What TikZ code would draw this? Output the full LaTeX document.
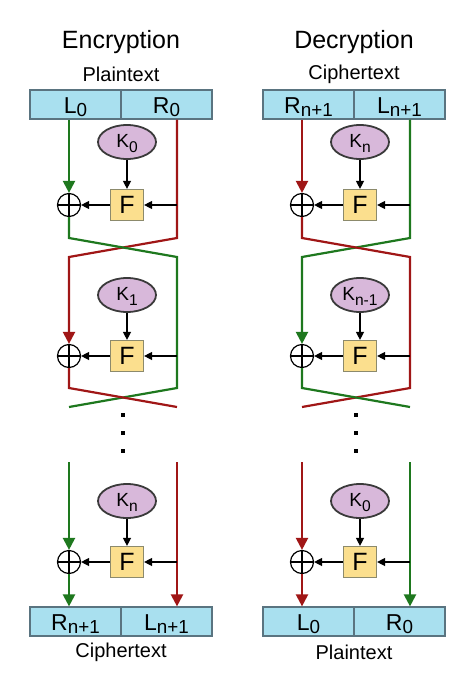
\documentclass[tikz,border=0pt]{standalone}
\usepackage{fontspec}
\setmainfont{Liberation Sans}
\usepackage{xcolor}
\usetikzlibrary{arrows.meta,shapes.geometric}

\definecolor{fgreen}{HTML}{1E781E}
\definecolor{fred}{HTML}{A01616}
\definecolor{boxfill}{HTML}{A9E0EF}
\definecolor{boxline}{HTML}{5A7480}
\definecolor{keyfill}{HTML}{D8B8DA}
\definecolor{keyline}{HTML}{3A3A3A}
\definecolor{ffill}{HTML}{FBDF8E}
\definecolor{fline}{HTML}{8C8A6C}

\newcommand{\lowsub}[1]{\raisebox{-0.28em}{\scalebox{0.82}{#1}}}
\newcommand{\boxsub}[1]{\raisebox{-0.16em}{\scalebox{0.82}{#1}}}

\begin{document}
\begin{tikzpicture}[x=1pt, y=-1pt,
  title/.style={font=\fontsize{25}{30}\selectfont},
  caption/.style={font=\fontsize{20}{24}\selectfont},
  halfbox/.style={draw=boxline, line width=1.2pt, fill=boxfill, minimum width=91pt,
    minimum height=29pt, inner sep=0pt, text height=20pt, text depth=3pt,
    font=\fontsize{23}{23}\selectfont},
  keynode/.style={ellipse, draw=keyline, line width=1.8pt, fill=keyfill,
    minimum width=58pt, minimum height=34pt, inner sep=0pt, text height=13pt, text depth=3pt,
    font=\fontsize{19}{19}\selectfont},
  fnode/.style={draw=fline, line width=1.2pt, fill=ffill, minimum width=33pt,
    minimum height=31pt, inner sep=0pt, font=\fontsize{25}{25}\selectfont},
  xornode/.style={circle, draw, line width=1.2pt, minimum size=23pt, inner sep=0pt,
    path picture={\draw[line width=1.2pt] (path picture bounding box.north) -- (path picture bounding box.south)
      (path picture bounding box.west) -- (path picture bounding box.east);}},
  gline/.style={draw=fgreen, line width=2.2pt},
  rline/.style={draw=fred, line width=2.2pt},
  tip/.style={-{Triangle[length=12pt,width=12pt]}},
  karrow/.style={line width=1.3pt, -{Triangle[length=8pt,width=8pt]}}]

  \useasboundingbox (0,0) rectangle (474,693);

  % rows where the halves cross over
  \coordinate (rowA) at (0,238);
  \coordinate (rowB) at (0,257);
  \coordinate (rowC) at (0,388);
  \coordinate (rowD) at (0,407);
  \coordinate (rowE) at (0,462);

  % Encryption
  \coordinate (encleft) at (69,0);
  \coordinate (encright) at (177,0);
  \node[title] (enctitle) at (121,42) {Encryption};
  \node[caption] (encin) at (121,74) {Plaintext};
  \node[halfbox] (encL0) at (75.5,104.5) {L\boxsub{0}};
  \node[halfbox] (encR0) at (166.5,104.5) {R\boxsub{0}};

  \node[keynode] (encK0) at (127,142) {K\lowsub{0}};
  \node[fnode] (encF0) at (127,205) {F};
  \node[xornode] (encX0) at (69,205) {};

  \node[keynode] (encK1) at (127,295) {K\lowsub{1}};
  \node[fnode] (encF1) at (127,356) {F};
  \node[xornode] (encX1) at (69,356) {};

  \node[keynode] (encKn) at (127,501) {K\lowsub{n}};
  \node[fnode] (encFn) at (127,562) {F};
  \node[xornode] (encXn) at (69,562) {};

  \node[halfbox] (encRn) at (75.5,621.5) {R\boxsub{n+1}};
  \node[halfbox] (encLn) at (166.5,621.5) {L\boxsub{n+1}};
  \node[caption] (encout) at (121,652) {Ciphertext};

  \draw[gline, tip] (encL0.south -| encX0) -- (encX0.north);
  \draw[rline, tip] (encR0.south -| encright) -- (encright |- rowA) -- (encleft |- rowB) -- (encX1.north);
  \draw[gline] (encX0.south) -- (encleft |- rowA) -- (encright |- rowB) -- (encright |- rowC) -- (encleft |- rowD);
  \draw[rline] (encX1.south) -- (encleft |- rowC) -- (encright |- rowD);
  \draw[gline, tip] (encleft |- rowE) -- (encXn.north);
  \draw[gline, tip] (encXn.south) -- (encRn.north -| encXn);
  \draw[rline, tip] (encright |- rowE) -- (encLn.north -| encright);

  \foreach \r in {0,1,n} {
    \draw[karrow] (encK\r.south) -- (encF\r.north);
    \draw[karrow] (encF\r -| encright) -- (encF\r.east);
    \draw[karrow] (encF\r.west) -- (encX\r.east);
  }
  \foreach \y in {413,431,449}
    \fill (121,\y) rectangle ++(4,4);

  % Decryption
  \begin{scope}[xshift=233]
  \coordinate (decleft) at (69,0);
  \coordinate (decright) at (177,0);
  \node[title] (dectitle) at (121,42) {Decryption};
  \node[caption] (decin) at (121,74) {Ciphertext};
  \node[halfbox] (decRn) at (75.5,104.5) {R\boxsub{n+1}};
  \node[halfbox] (decLn) at (166.5,104.5) {L\boxsub{n+1}};

  \node[keynode] (decKn) at (127,142) {K\lowsub{n}};
  \node[fnode] (decFn) at (127,205) {F};
  \node[xornode] (decXn) at (69,205) {};

  \node[keynode] (decKm) at (127,295) {K\lowsub{n-1}};
  \node[fnode] (decFm) at (127,356) {F};
  \node[xornode] (decXm) at (69,356) {};

  \node[keynode] (decK0) at (127,501) {K\lowsub{0}};
  \node[fnode] (decF0) at (127,562) {F};
  \node[xornode] (decX0) at (69,562) {};

  \node[halfbox] (decL0) at (75.5,621.5) {L\boxsub{0}};
  \node[halfbox] (decR0) at (166.5,621.5) {R\boxsub{0}};
  \node[caption] (decout) at (121,652) {Plaintext};

  \draw[rline, tip] (decRn.south -| decXn) -- (decXn.north);
  \draw[gline, tip] (decLn.south -| decright) -- (decright |- rowA) -- (decleft |- rowB) -- (decXm.north);
  \draw[rline] (decXn.south) -- (decleft |- rowA) -- (decright |- rowB) -- (decright |- rowC) -- (decleft |- rowD);
  \draw[gline] (decXm.south) -- (decleft |- rowC) -- (decright |- rowD);
  \draw[rline, tip] (decleft |- rowE) -- (decX0.north);
  \draw[rline, tip] (decX0.south) -- (decL0.north -| decX0);
  \draw[gline, tip] (decright |- rowE) -- (decR0.north -| decright);

  \foreach \r in {n,m,0} {
    \draw[karrow] (decK\r.south) -- (decF\r.north);
    \draw[karrow] (decF\r -| decright) -- (decF\r.east);
    \draw[karrow] (decF\r.west) -- (decX\r.east);
  }
  \foreach \y in {413,431,449}
    \fill (121,\y) rectangle ++(4,4);
  \end{scope}
\end{tikzpicture}
\end{document}
